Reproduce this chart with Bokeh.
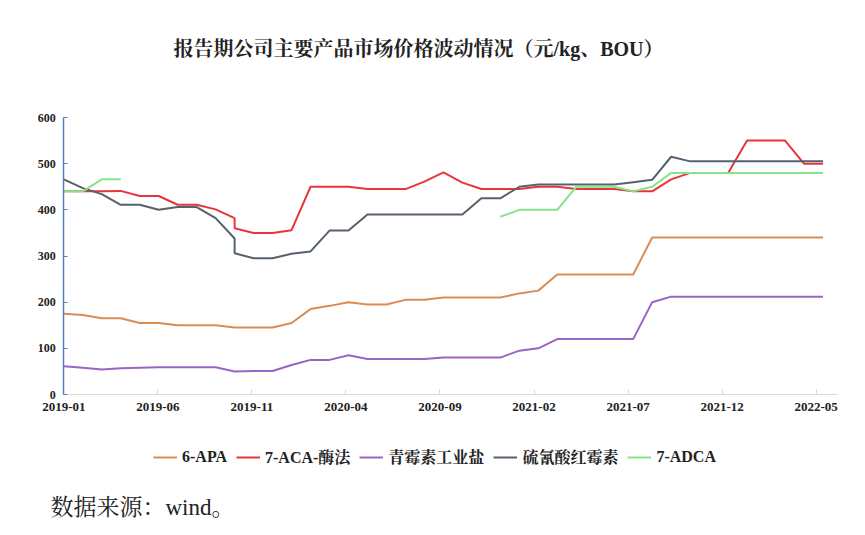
import pandas as pd
from bokeh.plotting import figure
from bokeh.models import Legend, LegendItem, FixedTicker, Label, Range1d, LinearAxis
from bokeh.embed import file_html
from bokeh.resources import INLINE

nan = float("nan")

# monthly observations; 2019-10 appears twice (price step within the month)
months = [str(p) for p in pd.period_range("2019-01", "2022-05", freq="M")]
months.insert(9, "2019-10")

apa = [175, 172, 165, 165, 155, 155, 150, 150, 150,
       145, 145,
       145, 145, 155, 185, 192, 200, 195, 195, 205, 205, 210, 210, 210, 210, 219, 225, 260, 260, 260, 260, 260,
       340, 340, 340, 340, 340, 340, 340, 340, 340, 340]
aca = [440, 440, 440, 441, 430, 430, 411, 411, 401,
       382, 360,
       350, 350, 356, 450, 450, 450, 445, 445, 445, 461, 481, 459, 445, 445, 445, 450, 450, 445, 445, 445, 440,
       440, 466, 480, 480, 480, 550, 550, 550, 500, 500]
penicillin = [61, 58, 54, 57, 58, 59, 59, 59, 59,
              50, 50,
              51, 51, 64, 75, 75, 85, 77, 77, 77, 77, 80, 80, 80, 80, 95, 100, 120, 120, 120, 120, 120,
              200, 212, 212, 212, 212, 212, 212, 212, 212, 212]
erythro = [466, 447, 434, 411, 411, 400, 406, 406, 382,
           338, 306,
           295, 295, 305, 310, 355, 355, 390, 390, 390, 390, 390, 390, 425, 425, 450, 455, 455, 455, 455, 455, 460,
           465, 515, 505, 505, 505, 505, 505, 505, 505, 505]
adca = [440, 440, 466, 466, nan, nan, nan, nan, nan,
        nan, nan,
        nan, nan, nan, nan, nan, nan, nan, nan, nan, nan, nan, nan, nan, 385, 400, 400, 400, 450, 450, 450, 440,
        450, 480, 480, 480, 480, 480, 480, 480, 480, 480]

series_names = ["6-APA", "7-ACA-酶法", "青霉素工业盐", "硫氰酸红霉素", "7-ADCA"]
series_values = [apa, aca, penicillin, erythro, adca]
series_colors = ["#DA8C57", "#E8353D", "#9A64C4", "#56616E", "#86E486"]

tick_labels = ["2019-01", "2019-06", "2019-11", "2020-04", "2020-09",
               "2021-02", "2021-07", "2021-12", "2022-05"]
y_ticks = [0, 100, 200, 300, 400, 500, 600]

title_text = "报告期公司主要产品市场价格波动情况（元/kg、BOU）"
source_text = "数据来源：wind。"

x = [(int(m[:4]) - 2019) * 12 + int(m[5:]) - 1 for m in months]

SERIF = "'Liberation Serif', 'Noto Serif CJK SC', 'Noto Sans CJK SC'"

# frame covers the canvas below the title; the axes sit at fixed locations inside it
PX_X = 18.98          # pixels per month
PX_Y = 277 / 600      # pixels per unit
TOP = 84              # frame top (pixels)
x0 = -63.3 / PX_X
y0 = -141 / PX_Y
y1 = 600 + (117 - TOP) / PX_Y

p = figure(width=865, height=535, output_backend="svg", toolbar_location=None,
           x_range=Range1d(x0, x0 + 865 / PX_X), y_range=Range1d(y0, y1),
           x_axis_location=None, y_axis_location=None,
           min_border_left=0, min_border_right=0, min_border_top=TOP, min_border_bottom=0,
           background_fill_color="white", border_fill_color="white")
p.outline_line_color = None
p.grid.visible = False

renderers = []
for vals, col in zip(series_values, series_colors):
    r = p.line(x, vals, line_color=col, line_width=2)
    renderers.append(r)

step = 4.955
tick_pos = [round(k * step, 3) for k in range(len(tick_labels))]
xaxis = LinearAxis(fixed_location=0, bounds=(0, 40.78),
                   ticker=FixedTicker(ticks=tick_pos),
                   major_label_overrides={tp: lab for tp, lab in zip(tick_pos, tick_labels)},
                   axis_line_color="#D9D9D9", major_tick_line_color="#D9D9D9",
                   major_tick_in=5, major_tick_out=0, minor_tick_line_color=None,
                   major_label_standoff=8, major_label_text_font=SERIF,
                   major_label_text_font_style="bold", major_label_text_font_size="13px",
                   major_label_text_color="#222222")
p.add_layout(xaxis, "below")

yaxis = LinearAxis(fixed_location=0, bounds=(0, 600),
                   ticker=FixedTicker(ticks=y_ticks),
                   axis_line_color="#4F81BD", axis_line_width=1.5,
                   major_tick_line_color="#4F81BD", major_tick_in=4, major_tick_out=0,
                   minor_tick_line_color=None,
                   major_label_standoff=8, major_label_text_font=SERIF,
                   major_label_text_font_style="bold", major_label_text_font_size="12px",
                   major_label_text_color="#222222")
p.add_layout(yaxis, "left")

# title
p.title.text = title_text
p.title.align = "left"
p.title.offset = 173
p.title.standoff = 50
p.title.text_font = SERIF
p.title.text_font_style = "bold"
p.title.text_font_size = "20px"
p.title.text_color = "#222222"

legend = Legend(items=[LegendItem(label=n, renderers=[r]) for n, r in zip(series_names, renderers)],
                orientation="horizontal", location=(153, 67),
                border_line_color=None, background_fill_alpha=0,
                glyph_width=24, label_standoff=5, spacing=9,
                margin=0, padding=0,
                label_text_font=SERIF, label_text_font_style="bold",
                label_text_font_size="16px", label_text_color="#222222")
p.add_layout(legend, "center")

footer = Label(text=source_text, x=(50 - 63.3) / PX_X, y=(394 - 507) / PX_Y,
               text_baseline="middle", text_align="left",
               text_font=SERIF, text_font_style="normal", text_font_size="23px",
               text_color="#222222")
p.add_layout(footer)

open("out.html", "w").write(file_html(p, INLINE))
